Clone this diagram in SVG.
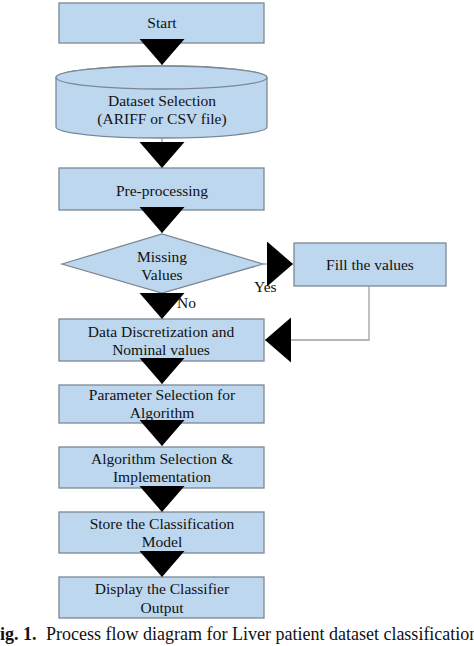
<svg xmlns="http://www.w3.org/2000/svg" width="474" height="646" viewBox="0 0 474 646">
<style>
.box{fill:#bdd7ee;stroke:#7b8794;stroke-width:1.3}
.t{font-family:"Liberation Serif","Times New Roman",serif;font-size:15.5px;fill:#111;text-anchor:middle}
.lbl{font-family:"Liberation Serif","Times New Roman",serif;font-size:15.5px;fill:#111}
.cap{font-family:"Liberation Serif","Times New Roman",serif;font-size:18px;fill:#111}
.c{fill:none;stroke:#a0a0a0;stroke-width:1.3;marker-end:url(#tri)}
</style>
<defs>
<marker id="tri" markerUnits="userSpaceOnUse" markerWidth="27" markerHeight="46" refX="26" refY="22.5" orient="auto" viewBox="0 0 27 46">
<path d="M0,0 L26,22.5 L0,45 Z" fill="#000"/>
</marker>
</defs>
<rect width="474" height="646" fill="#fff"/>
<g id="start"><rect class="box" x="59" y="3" width="205" height="40"/><text class="t" x="162" y="28">Start</text></g>
<g id="dataset">
<path class="box" d="M56,77.5 L56,127 A105.5,11 0 0 0 267,127 L267,77.5 A105.5,11.5 0 0 0 56,77.5 Z"/>
<ellipse class="box" cx="161.5" cy="77.5" rx="105.5" ry="11.5"/>
<text class="t" x="162" y="106">Dataset Selection</text>
<text class="t" x="162" y="124">(ARIFF or CSV file)</text>
</g>
<g id="preprocessing"><rect class="box" x="59" y="168" width="205" height="42"/><text class="t" x="162" y="196">Pre-processing</text></g>
<g id="missing"><polygon class="box" points="62,264 162,234 263,264 162,293"/><text class="t" x="162" y="262">Missing</text><text class="t" x="162" y="280">Values</text></g>
<g id="fill"><rect class="box" x="294" y="243" width="152" height="43"/><text class="t" x="370" y="270">Fill the values</text></g>
<g id="discretization"><rect class="box" x="59" y="319" width="205" height="42"/><text class="t" x="161" y="337">Data Discretization and</text><text class="t" x="161" y="355">Nominal values</text></g>
<g id="parameter"><rect class="box" x="59" y="385" width="205" height="38"/><text class="t" x="162" y="400">Parameter Selection for</text><text class="t" x="162" y="418">Algorithm</text></g>
<g id="algorithm"><rect class="box" x="59" y="447" width="205" height="41"/><text class="t" x="162" y="464">Algorithm Selection &amp;</text><text class="t" x="162" y="482">Implementation</text></g>
<g id="store"><rect class="box" x="59" y="512" width="205" height="41"/><text class="t" x="162" y="529">Store the Classification</text><text class="t" x="162" y="547">Model</text></g>
<g id="display"><rect class="box" x="59" y="577" width="205" height="41"/><text class="t" x="162" y="594">Display the Classifier</text><text class="t" x="162" y="613">Output</text></g>
<g id="connectors">
<path class="c" d="M162,43 L162,65"/>
<path class="c" d="M162,138 L162,168"/>
<path class="c" d="M162,210 L162,233"/>
<path class="c" d="M162,293 L162,319"/>
<path class="c" d="M162,361 L162,384"/>
<path class="c" d="M162,423 L162,446"/>
<path class="c" d="M162,488 L162,512"/>
<path class="c" d="M162,553 L162,577"/>
<path class="c" d="M263,264 L293,264"/>
<path class="c" d="M369,286 L369,340 L265,340"/>
<text class="lbl" x="254" y="292">Yes</text>
<text class="lbl" x="177" y="308">No</text>
</g>
<text class="cap" x="0" y="640"><tspan font-weight="bold">ig. 1.</tspan><tspan x="46">Process flow diagram for Liver patient dataset classification</tspan></text>
</svg>
